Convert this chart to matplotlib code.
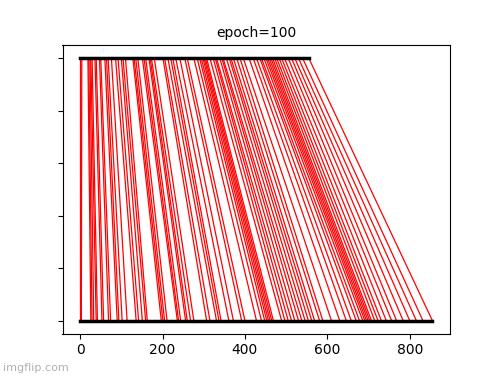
import numpy as np
import matplotlib
matplotlib.use('Agg')
import matplotlib.pyplot as plt

# x positions on the top row (y=1)
top_x = [0, 4, 19, 21, 24, 26, 29, 36, 39, 47, 50, 60, 64, 68, 76, 86,
         92, 100, 104, 110, 128, 131, 135, 140, 151, 155, 159, 167, 170,
         173, 180, 201, 205, 213, 220, 225, 232, 242, 254, 260, 276, 284,
         290, 294, 298, 301, 304, 307, 315, 323, 328, 331, 339, 344, 347,
         355, 362, 366, 372, 380, 388, 396, 410, 420, 428, 436, 440, 446,
         451, 455, 459, 463, 467, 472, 477, 483, 489, 496, 505, 513, 521,
         530, 540, 555]

# x positions on the bottom row (y=0)
bottom_x = [0, 3, 26, 29, 33, 39, 42, 53, 57, 69, 74, 90, 94, 102, 114, 136,
            142, 151, 159, 163, 197, 201, 205, 211, 236, 239, 244, 256, 260,
            268, 276, 307, 315, 331, 337, 342, 361, 372, 392, 400, 428, 440,
            448, 453, 457, 461, 465, 469, 489, 497, 505, 513, 521, 530, 538,
            546, 554, 562, 569, 581, 589, 610, 630, 646, 658, 670, 678, 686,
            691, 695, 699, 703, 707, 715, 723, 731, 743, 756, 768, 784, 800,
            816, 832, 855]

fig = plt.figure(figsize=(5, 3.75), dpi=100)
ax = fig.add_subplot(111)

for a, b in zip(top_x, bottom_x):
    ax.plot([a, b], [1, 0], color='red', linewidth=0.9)

ax.plot(top_x, np.ones(len(top_x)), color='black', linewidth=2.5, zorder=3)
ax.plot(bottom_x, np.zeros(len(bottom_x)), color='black', linewidth=2.5, zorder=3)

ax.set_title('epoch=100', fontsize=10)
ax.set_xticks([0, 200, 400, 600, 800])
ax.set_yticks([0, 0.2, 0.4, 0.6, 0.8, 1.0])
ax.set_yticklabels([])

fig.text(0.005, 0.01, 'imgflip.com', color='#b0b0b0', fontsize=8)

plt.savefig('out.png')
plt.close()
